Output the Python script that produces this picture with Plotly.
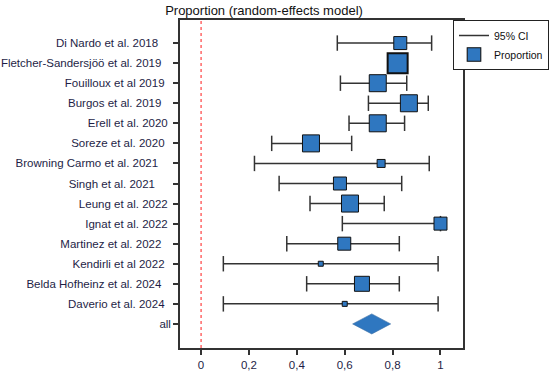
import plotly.graph_objects as go

studies = ["Di Nardo et al. 2018", "Fletcher-Sandersjöö et al. 2019", "Fouilloux et al 2019",
           "Burgos et al. 2019", "Erell et al. 2020", "Soreze et al. 2020",
           "Browning Carmo et al. 2021", "Singh et al. 2021", "Leung et al. 2022",
           "Ignat et al. 2022", "Martinez et al. 2022", "Kendirli et al 2022",
           "Belda Hofheinz et al. 2024", "Daverio et al. 2024"]
proportion = [0.832, 0.821, 0.738, 0.868, 0.738, 0.459, 0.752, 0.580, 0.622, 1.0, 0.598, 0.50, 0.672, 0.60]
ci_low = [0.569, 0.785, 0.582, 0.699, 0.618, 0.295, 0.223, 0.326, 0.455, 0.590, 0.358, 0.093, 0.441, 0.093]
ci_high = [0.963, 0.859, 0.859, 0.949, 0.850, 0.629, 0.953, 0.838, 0.765, 1.0, 0.828, 0.990, 0.828, 0.990]
weight_size = [13, 20, 17, 17, 17, 17, 8, 13, 17, 13, 13, 5, 15, 5]
pooled_label = "all"
pooled = 0.713
pooled_low = 0.633
pooled_high = 0.792

# trailing padding to mimic label alignment of the original software
label_pad = [4, 3, 2, 3, 1, 2, 4, 5, 1, 1, 3, 2, 3, 2, 0]

labels = studies + [pooled_label]
rows = list(range(len(studies)))
pool_row = len(studies)

BLUE = "#2f77c0"
INK = "#333333"
TXT = "#1e1e46"

fig = go.Figure()

# CI lines
cx, cy = [], []
for r, lo, hi in zip(rows, ci_low, ci_high):
    cx += [lo, hi, None]
    cy += [r, r, None]
fig.add_trace(go.Scatter(x=cx, y=cy, mode="lines", name="95% CI",
                         line=dict(color=INK, width=1.5), hoverinfo="skip"))
# CI caps
fig.add_trace(go.Scatter(x=ci_low + ci_high, y=rows + rows, mode="markers", showlegend=False,
                         marker=dict(symbol="line-ns", size=11, line=dict(color=INK, width=1.5)),
                         hoverinfo="skip"))
# point estimates
lw = [2 if s >= 20 else 1 for s in weight_size]
fig.add_trace(go.Scatter(x=proportion, y=rows, mode="markers", name="Proportion",
                         marker=dict(symbol="square", size=weight_size, color=BLUE, opacity=1,
                                     line=dict(color="#111111", width=lw))))
# pooled diamond
fig.add_trace(go.Scatter(x=[pooled_low, pooled, pooled_high, pooled, pooled_low],
                         y=[pool_row, pool_row - 0.5, pool_row, pool_row + 0.5, pool_row],
                         mode="lines", fill="toself", fillcolor=BLUE,
                         line=dict(color="#3a6ea5", width=0.6), showlegend=False,
                         hoverinfo="skip"))

fig.add_shape(type="line", xref="x", yref="paper", x0=0, x1=0, y0=0, y1=1,
              line=dict(color="#ff1a1a", width=1, dash="dot"))

ticktext = [lab + "\u00a0" * p for lab, p in zip(labels, label_pad)]

fig.update_layout(
    width=550, height=372,
    margin=dict(l=180, r=87, t=20, b=24, autoexpand=False),
    paper_bgcolor="white", plot_bgcolor="white",
    separators=",.",
    font=dict(family="Liberation Sans, Arial, sans-serif", size=11.5, color=TXT),
    title=dict(text="Proportion (random-effects model)", x=264 / 550, xanchor="center",
               y=1 - 10 / 372, yanchor="middle", font=dict(size=13, color="#111111")),
    showlegend=True,
    legend=dict(x=(549 - 180) / 283, xanchor="right", y=1.0, yanchor="top",
                bordercolor="#222222", borderwidth=1, bgcolor="white",
                font=dict(size=10.5, color="#111111"), tracegroupgap=0, itemwidth=30),
    xaxis=dict(range=[-0.088, 1.094], tickvals=[0, 0.2, 0.4, 0.6, 0.8, 1],
               ticks="outside", ticklen=5, tickwidth=1.5, tickcolor=INK, automargin=False,
               showline=True, linecolor=INK, linewidth=1.5, mirror=True,
               showgrid=False, zeroline=False, tickfont=dict(size=11.5, color=TXT)),
    yaxis=dict(range=[15.2, -1.15], tickvals=list(range(len(labels))), ticktext=ticktext,
               ticks="outside", ticklen=5, tickwidth=1.5, tickcolor=INK, automargin=False,
               showline=True, linecolor=INK, linewidth=1.5, mirror=True,
               showgrid=False, zeroline=False, tickfont=dict(size=11.5, color=TXT)),
)

fig.write_html("out.html", config={"displayModeBar": False},
               post_script="document.body.style.margin='0';document.body.style.overflow='hidden';")
